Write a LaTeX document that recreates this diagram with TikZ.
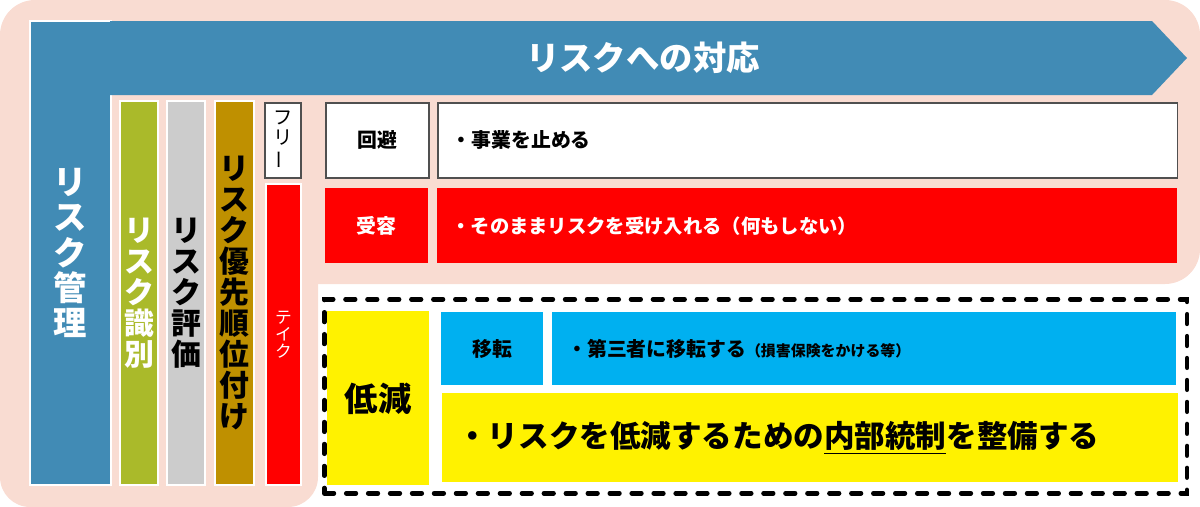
\documentclass[tikz,border=0pt]{standalone}
\usepackage{fontspec}
\setmainfont{Noto Sans CJK JP}
\definecolor{kblue}{RGB}{65,139,181}
\definecolor{olive}{RGB}{170,186,42}
\definecolor{lgray}{RGB}{204,204,204}
\definecolor{gold}{RGB}{191,144,0}
\definecolor{sky}{RGB}{0,176,240}
\definecolor{pinkbg}{RGB}{249,220,210}
\definecolor{frame}{RGB}{80,80,80}
\begin{document}
\begin{tikzpicture}[x=0.02cm, y=-0.02cm,
	every node/.style={anchor=north west, rectangle, inner sep=0pt},
	bar/.style={draw=white, line width=1.2pt, align=center},
	cell/.style={draw=frame, line width=0.9pt},
	tatefont/.style={font=\fontsize{17}{17.6}\selectfont\bfseries},
	midfont/.style={font=\fontsize{11.3}{13}\selectfont\bfseries}]
			\useasboundingbox (0,0) rectangle (1200,507);

			\fill[pinkbg, rounded corners=0.7cm] (0,0) rectangle (1200,284);
			\fill[pinkbg, rounded corners=0.6cm] (0,150) rectangle (318,507);

			\draw (29,20) node (kanri) [bar, fill=kblue, text=white, minimum width=1.62cm, minimum height=9.28cm, font=\fontsize{19}{20}\selectfont\bfseries] {リ\\ス\\ク\\管\\理};

			\fill[kblue] (110,21) -- (1152,21) -- (1187,58) -- (1152,95) -- (110,95) -- cycle;
			\draw (643,58) node (taiou) [anchor=center, text=white, font=\fontsize{19}{22}\selectfont\bfseries] {リスクへの対応};

			\draw (119,100) node (shikibetsu) [bar, fill=olive, text=white, tatefont, minimum width=0.76cm, minimum height=7.68cm] {リ\\ス\\ク\\識\\別};
			\draw (166,100) node (hyouka) [bar, fill=lgray, tatefont, minimum width=0.76cm, minimum height=7.68cm] {リ\\ス\\ク\\評\\価};
			\draw (214,100) node (yuusen) [bar, fill=gold, tatefont, minimum width=0.78cm, minimum height=7.68cm] {リ\\ス\\ク\\優\\先\\順\\位\\付\\け};

			\draw (264,102) node (free) [cell, fill=white, align=center, minimum width=0.72cm, minimum height=1.5cm, font=\fontsize{11}{11.3}\selectfont] {フ\\リ\\\rotatebox[origin=c]{90}{ー}};
			\draw (265,183) node (take) [bar, fill=red, text=white, minimum width=0.7cm, minimum height=6.02cm, font=\fontsize{9.5}{9.8}\selectfont] {テ\\イ\\ク};

			\draw (325,102) node (kaihi) [cell, fill=white, midfont, minimum width=2.06cm, minimum height=1.5cm] {回避};
			\draw (437,102) node (kaihinaiyou) [cell, fill=white, midfont, minimum height=1.5cm, inner xsep=0.28cm, text width=14.24cm, align=left] {・事業を止める};

			\draw (325,188) node (juyou) [fill=red, text=white, midfont, minimum width=2.06cm, minimum height=1.5cm] {受容};
			\draw (437,188) node (juyounaiyou) [fill=red, text=white, minimum height=1.5cm, inner xsep=0.28cm, text width=14.24cm, align=left, font=\fontsize{11}{13}\selectfont\bfseries] {・そのままリスクを受け入れる（何もしない）};

			\draw (322,297) node (waku) [draw=black, line width=2.6pt, dash pattern=on 5.5pt off 7pt, line cap=round, minimum width=17.26cm, minimum height=3.88cm] {};

			\draw (327,311) node (teigen) [fill=yellow, minimum width=2.04cm, minimum height=3.48cm, font=\fontsize{19}{22}\selectfont\bfseries] {低減};
			\draw (441,312) node (iten) [fill=sky, midfont, minimum width=2.04cm, minimum height=1.46cm] {移転};
			\draw (552,312) node (itennaiyou) [fill=sky, midfont, minimum height=1.46cm, inner xsep=0.3cm, text width=11.88cm, align=left] {・第三者に移転する{\fontsize{8.5}{10}\selectfont（損害保険をかける等）}};
			\draw (442,393) node (naibu) [fill=yellow, minimum height=1.78cm, inner xsep=0.3cm, text width=14.12cm, align=left, font=\fontsize{17.4}{20}\selectfont\bfseries] {・リスクを低減するための\underline{内部統制}を整備する};

\end{tikzpicture}
\end{document}
